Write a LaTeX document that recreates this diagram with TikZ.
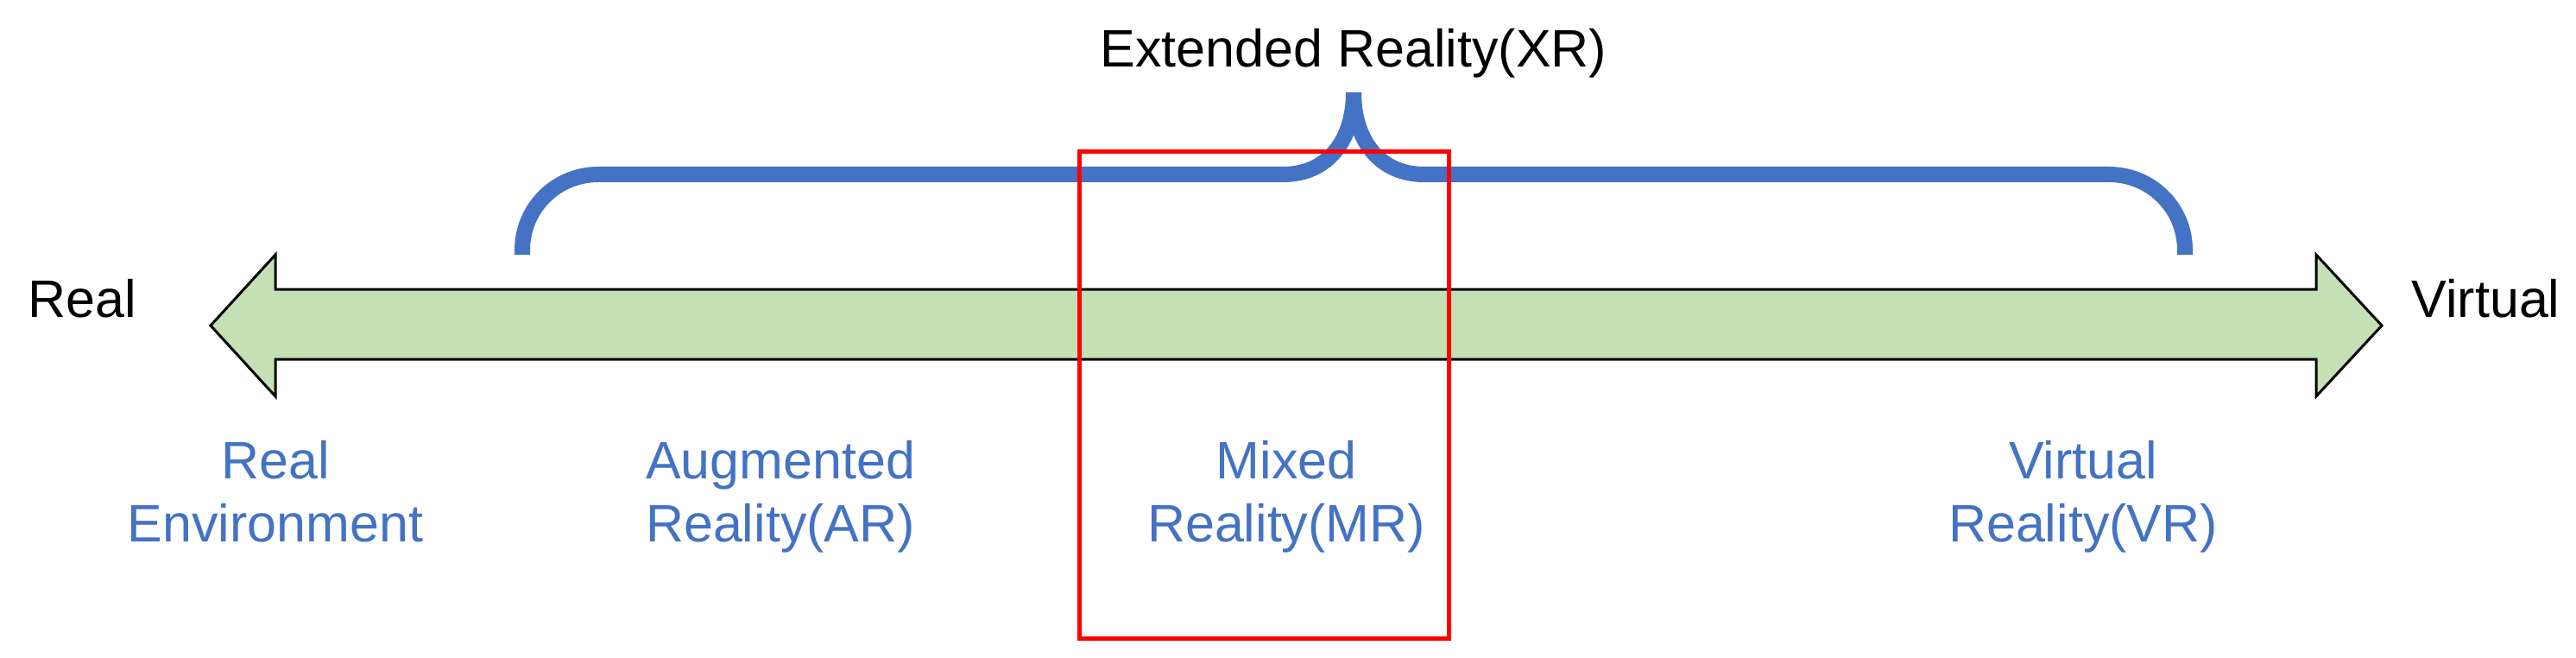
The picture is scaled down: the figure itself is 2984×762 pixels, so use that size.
\documentclass[tikz,border=0pt]{standalone}
\usepackage{fontspec}
\setmainfont{Liberation Sans}
\definecolor{xblue}{HTML}{4472C4}
\definecolor{xgreen}{HTML}{C5E0B4}
\begin{document}
\begin{tikzpicture}[x=1pt,y=-1pt,
  lbl/.style={font=\fontsize{61}{73}\selectfont, text=xblue, align=center, anchor=base},
  blk/.style={font=\fontsize{61}{73}\selectfont, anchor=base}]
\useasboundingbox (0,0) rectangle (2984,762);
% double arrow
\draw[line width=3pt, fill=xgreen, line join=miter]
  (244,377) -- (319,295) -- (319,335) -- (2683,335) -- (2683,295) -- (2759,377)
  -- (2683,459) -- (2683,416) -- (319,416) -- (319,459) -- cycle;
% brace
\draw[xblue, line width=18pt]
  (605,295) -- (605,290) .. controls (605,240) and (645,202) .. (693,202) -- (1486,202)
  .. controls (1540,202) and (1568,160) .. (1568,107);
\draw[xblue, line width=18pt]
  (1568,107) .. controls (1568,160) and (1596,202) .. (1650,202) -- (2443,202)
  .. controls (2491,202) and (2531,240) .. (2531,290) -- (2531,295);
% red box
\draw[red, line width=5pt] (1250,176) rectangle (1678,739);
% texts
\node[blk] (xr) at (1568,78) {Extended Reality(XR)};
\node[blk, anchor=base west] (real) at (29,367) {Real};
\node[blk, anchor=base east] (virt) at (2969,367) {Virtual};
\node[lbl] (re) at (319,554) {Real};
\node[lbl] (re2) at (319,627) {Environment};
\node[lbl] (ar) at (904,554) {Augmented};
\node[lbl] (ar2) at (904,627) {Reality(AR)};
\node[lbl] (mr) at (1490,554) {Mixed};
\node[lbl] (mr2) at (1490,627) {Reality(MR)};
\node[lbl] (vr) at (2413,554) {Virtual};
\node[lbl] (vr2) at (2413,627) {Reality(VR)};
\end{tikzpicture}
\end{document}
